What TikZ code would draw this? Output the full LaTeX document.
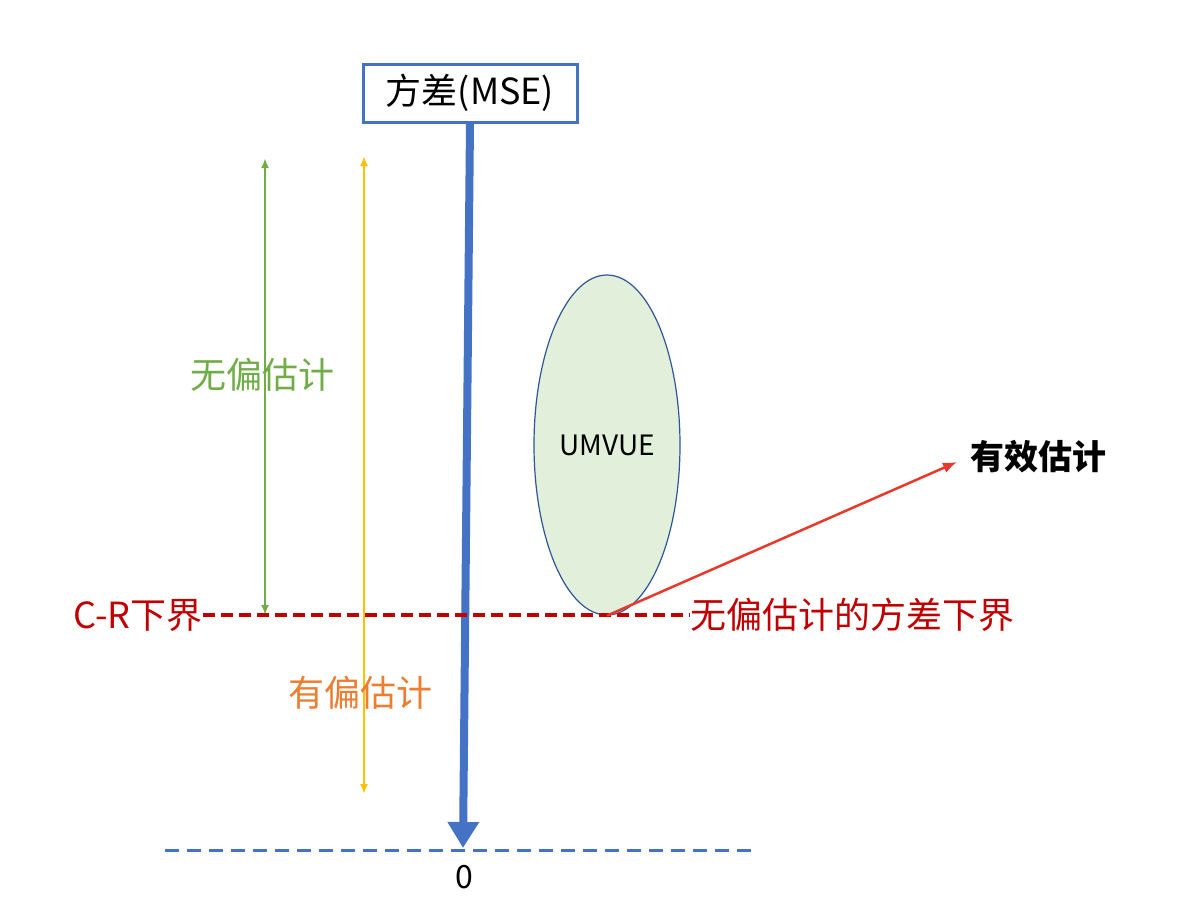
\documentclass[tikz,border=0pt]{standalone}
\usepackage{fontspec}
\setmainfont{Noto Sans CJK SC}
\usetikzlibrary{arrows.meta,shapes.geometric}
\definecolor{bl}{HTML}{4472C4}
\definecolor{gr}{HTML}{70AD47}
\definecolor{ye}{HTML}{FFC000}
\definecolor{org}{HTML}{ED7D31}
\definecolor{dr}{HTML}{C00000}
\definecolor{rr}{HTML}{E8392A}
\definecolor{lg}{HTML}{E2EFDA}
\definecolor{eb}{HTML}{2F5597}
\begin{document}
\begin{tikzpicture}[x=1pt,y=-1pt,
  lbl/.style={font=\fontsize{36}{40}\selectfont,inner sep=0pt}]
\useasboundingbox (0,0) rectangle (1200,922);
\node[draw=bl,line width=3pt,minimum width=214pt,minimum height=58pt,lbl,fill=white] (box) at (470,93) {方差(MSE)};
\coordinate (zero) at (463,848);
\draw[bl,line width=8pt,-{Triangle[length=26pt,width=30pt]}] (box.south) ++(0,0) -- (zero);
\coordinate (b1) at (165,850); \coordinate (b2) at (755,850);
\draw[bl,line width=3pt,dash pattern=on 14pt off 8pt] (b1) -- (b2);
\node[lbl,font=\fontsize{32}{36}\selectfont] (z) at (464,877) {0};
\coordinate (g1) at (265,158); \coordinate (g2) at (265,615);
\draw[gr,line width=2pt,{Latex[length=10pt,width=8pt]}-{Latex[length=10pt,width=8pt]}] (g1) -- (g2);
\node[lbl,text=gr] (wp) at (262,375) {无偏估计};
\coordinate (y1) at (364,156); \coordinate (y2) at (364,794);
\draw[ye,line width=2pt,{Latex[length=10pt,width=8pt]}-{Latex[length=10pt,width=8pt]}] (y1) -- (y2);
\node[lbl,text=org] (yp) at (360,693) {有偏估计};
\node[draw=eb,line width=1.2pt,fill=lg,ellipse,minimum width=146pt,minimum height=340pt,inner sep=0pt] (el) at (607,445) {};
\node[lbl,font=\fontsize{28}{32}\selectfont] (um) at (607,445) {UMVUE};
\node[lbl,text=dr,anchor=east] (cr) at (203,615) {C-R下界};
\node[lbl,text=dr,anchor=west] (lb) at (690,615) {无偏估计的方差下界};
\draw[dr,line width=4pt,dash pattern=on 12pt off 6pt] (cr.east) -- (lb.west);
\node[lbl,font=\fontsize{34}{38}\selectfont\bfseries,anchor=west] (ef) at (970,457) {有效估计};
\draw[rr,line width=2.5pt,-{Latex[length=14pt,width=11pt]}] (el.south) -- (957,462);
\end{tikzpicture}
\end{document}
